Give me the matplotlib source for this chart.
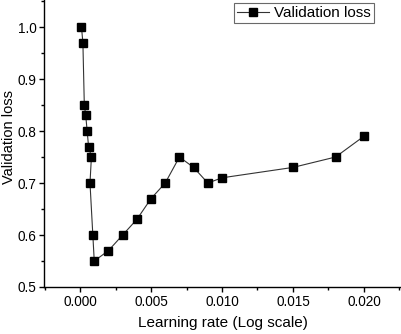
import matplotlib
matplotlib.use("Agg")
import matplotlib.pyplot as plt
from matplotlib.ticker import MultipleLocator

plt.rcParams['font.family'] = ['Liberation Sans', 'DejaVu Sans']

learning_rate = [0.0001, 0.0002, 0.0003, 0.0004, 0.0005, 0.0006, 0.0008, 0.0007,
                 0.0009, 0.001, 0.002, 0.003, 0.004, 0.005, 0.006, 0.007, 0.008,
                 0.009, 0.010, 0.015, 0.018, 0.020]
val_loss = [1.00, 0.97, 0.85, 0.83, 0.80, 0.77, 0.75, 0.70,
            0.60, 0.55, 0.57, 0.60, 0.63, 0.67, 0.70, 0.75, 0.73,
            0.70, 0.71, 0.73, 0.75, 0.79]
x_ticks = [0.000, 0.005, 0.010, 0.015, 0.020]
y_ticks = [0.5, 0.6, 0.7, 0.8, 0.9, 1.0]

fig = plt.figure(figsize=(4.02, 3.34), dpi=100)
ax = fig.add_axes([44 / 402, 47 / 334, 1 - 44 / 402, 1 - 47 / 334])

ax.plot(learning_rate, val_loss, color='#333333', lw=0.8, marker='s',
        markersize=5.8, markerfacecolor='black', markeredgecolor='black',
        label='Validation loss')

ax.set_xlim(-0.00254, 0.02268)
ax.set_ylim(0.5, 1.052)
ax.set_xticks(x_ticks)
ax.set_xticklabels([f"{t:.3f}" for t in x_ticks])
ax.set_yticks(y_ticks)
ax.set_yticklabels([f"{t:.1f}" for t in y_ticks])
ax.xaxis.set_minor_locator(MultipleLocator(0.0025))
ax.yaxis.set_minor_locator(MultipleLocator(0.05))

for side in ['top', 'right']:
    ax.spines[side].set_visible(False)
for side in ['left', 'bottom']:
    ax.spines[side].set_linewidth(1.0)
ax.tick_params(which='major', direction='out', length=3.5, width=1, labelsize=9.8, pad=2)
ax.tick_params(which='minor', direction='out', length=2.2, width=1)

ax.set_xlabel('Learning rate (Log scale)', fontsize=11, labelpad=5)
ax.set_ylabel('Validation loss', fontsize=10.5)
ax.yaxis.set_label_coords(-0.078, 0.523)

leg = ax.legend(loc='upper right', bbox_to_anchor=(374 / 402, 1 - 3 / 334),
                bbox_transform=fig.transFigure, fontsize=11, frameon=True,
                fancybox=False, handlelength=2.1, handletextpad=0.35,
                borderpad=0.2, borderaxespad=0)
leg.get_frame().set_edgecolor('#444444')
leg.get_frame().set_linewidth(0.8)

fig.savefig('out.png', dpi=100)
